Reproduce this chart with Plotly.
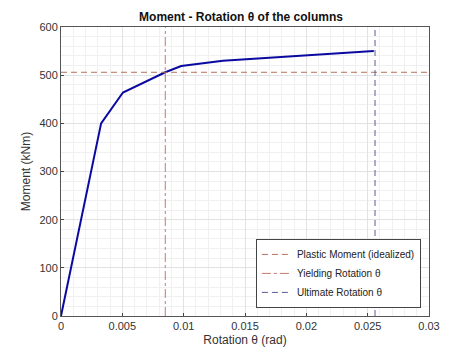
import plotly.graph_objects as go

theta = [0, 0.00327, 0.00505, 0.0085, 0.0098, 0.0132, 0.0255]
moment = [0, 400, 464, 506, 519, 530, 550]
plastic_moment = 506
yield_rot = 0.0085
ult_rot = 0.0256

fig = go.Figure()
fig.add_trace(go.Scatter(x=theta, y=moment, mode="lines",
                         line=dict(color="#0A0AA0", width=2), showlegend=False))
fig.add_trace(go.Scatter(x=[0, 0.03], y=[plastic_moment, plastic_moment], mode="lines",
                         line=dict(color="#B5705A", width=1, dash="6px,4px"),
                         name="Plastic Moment (idealized)"))
fig.add_trace(go.Scatter(x=[yield_rot, yield_rot], y=[0, 600], mode="lines",
                         line=dict(color="#C27A72", width=1, dash="dashdot"),
                         name="Yielding Rotation θ"))
fig.add_trace(go.Scatter(x=[ult_rot, ult_rot], y=[0, 600], mode="lines",
                         line=dict(color="#5A5A9A", width=1, dash="6px,4px"),
                         name="Ultimate Rotation θ"))

font = "Liberation Sans, Arial, sans-serif"
fig.update_layout(
    width=466, height=347,
    margin=dict(l=53, r=45, t=19, b=39, autoexpand=False),
    paper_bgcolor="white", plot_bgcolor="white",
    font=dict(family=font, size=11, color="#333333"),
    title=dict(text="<b>Moment - Rotation θ of the columns</b>", x=0.5, xanchor="center",
               y=0.975, yanchor="middle", font=dict(size=12, color="#111111"), automargin=False),
    legend=dict(x=0.978, y=0.028, xanchor="right", yanchor="bottom",
                bgcolor="white", bordercolor="#444444", borderwidth=1,
                font=dict(size=10, color="#222222"), tracegroupgap=0,
                itemwidth=30),
    xaxis=dict(range=[0, 0.03], tickvals=[0, 0.005, 0.01, 0.015, 0.02, 0.025, 0.03],
               ticktext=["0", "0.005", "0.01", "0.015", "0.02", "0.025", "0.03"],
               showgrid=True, gridcolor="#E2E2E2", gridwidth=1,
               minor=dict(dtick=0.001, showgrid=True, gridcolor="#F0F0F0", gridwidth=1),
               showline=True, linecolor="#555555", mirror=True, ticks="inside", ticklen=3,
               zeroline=False, automargin=False,
               title=dict(text="Rotation θ (rad)", standoff=4, font=dict(size=12)),
               tickfont=dict(size=11)),
    yaxis=dict(range=[0, 600], tickvals=[0, 100, 200, 300, 400, 500, 600],
               showgrid=True, gridcolor="#E2E2E2", gridwidth=1,
               minor=dict(dtick=20, showgrid=True, gridcolor="#F0F0F0", gridwidth=1),
               showline=True, linecolor="#555555", mirror=True, ticks="inside", ticklen=3,
               zeroline=False, automargin=False,
               title=dict(text="Moment (kNm)", standoff=6, font=dict(size=12)),
               tickfont=dict(size=11)),
)
fig.write_html("out.html")
